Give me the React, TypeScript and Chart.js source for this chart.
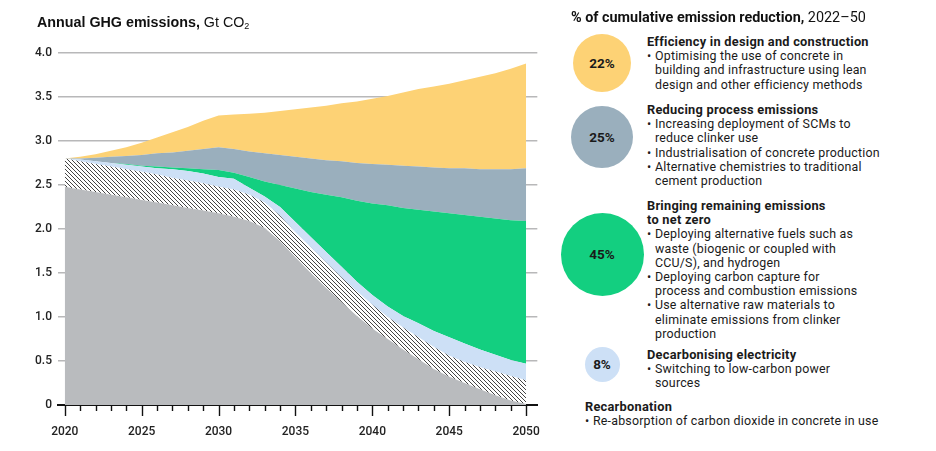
import React, { useEffect, useRef } from "react";
import { Chart, registerables } from "chart.js";

Chart.register(...registerables);

const years = [
  2020, 2021, 2022, 2023, 2024, 2025, 2026, 2027, 2028, 2029, 2030, 2031, 2032, 2033, 2034, 2035,
  2036, 2037, 2038, 2039, 2040, 2041, 2042, 2043, 2044, 2045, 2046, 2047, 2048, 2049, 2050,
];
// upper boundary of each stacked band (Gt CO2)
const remainingTop = [
  2.48, 2.45, 2.42, 2.39, 2.36, 2.33, 2.3, 2.27, 2.24, 2.21, 2.18, 2.14, 2.09, 2.01, 1.86, 1.68,
  1.5, 1.33, 1.17, 1.01, 0.87, 0.75, 0.63, 0.52, 0.41, 0.32, 0.25, 0.18, 0.11, 0.05, 0.01,
];
const recarbonationTop = [
  2.8, 2.77, 2.74, 2.71, 2.68, 2.65, 2.62, 2.58, 2.55, 2.52, 2.48, 2.45, 2.39, 2.3, 2.15, 1.96,
  1.79, 1.62, 1.45, 1.29, 1.14, 1.0, 0.88, 0.77, 0.66, 0.56, 0.49, 0.43, 0.38, 0.33, 0.28,
];
const electricityTop = [
  2.8, 2.79, 2.77, 2.75, 2.73, 2.71, 2.69, 2.68, 2.66, 2.63, 2.59, 2.57, 2.47, 2.37, 2.25, 2.08,
  1.91, 1.74, 1.57, 1.4, 1.25, 1.12, 1.01, 0.93, 0.84, 0.77, 0.7, 0.63, 0.57, 0.51, 0.47,
];
const netZeroTop = [
  2.8, 2.79, 2.77, 2.75, 2.74, 2.72, 2.71, 2.7, 2.69, 2.68, 2.67, 2.64, 2.59, 2.54, 2.5, 2.46,
  2.42, 2.39, 2.36, 2.32, 2.29, 2.27, 2.24, 2.22, 2.2, 2.18, 2.16, 2.14, 2.12, 2.1, 2.09,
];
const processTop = [
  2.8, 2.8, 2.81, 2.82, 2.83, 2.84, 2.86, 2.87, 2.89, 2.91, 2.93, 2.91, 2.88, 2.86, 2.84, 2.82,
  2.8, 2.78, 2.77, 2.75, 2.74, 2.73, 2.72, 2.71, 2.7, 2.69, 2.69, 2.68, 2.68, 2.68, 2.69,
];
const efficiencyTop = [
  2.8, 2.82, 2.85, 2.89, 2.93, 2.98, 3.04, 3.1, 3.16, 3.23, 3.29, 3.3, 3.31, 3.32, 3.34, 3.36,
  3.38, 3.4, 3.43, 3.45, 3.48, 3.51, 3.55, 3.59, 3.62, 3.65, 3.69, 3.73, 3.77, 3.82, 3.88,
];
const yTickValues = [0, 0.5, 1, 1.5, 2, 2.5, 3, 3.5, 4];
const xLabelStep = 5;

const seriesNames = [
  "Remaining emissions",
  "Recarbonation",
  "Decarbonising electricity",
  "Bringing remaining emissions to net zero",
  "Reducing process emissions",
  "Efficiency in design and construction",
];

const COLORS = {
  grey: "#b9bbbe",
  lightBlue: "#cde0f6",
  green: "#13cf80",
  blueGrey: "#9aafbd",
  yellow: "#fdd275",
};

const tickFont = "Roboto";

function makeHatch(): CanvasPattern | string {
  const s = 4;
  const c = document.createElement("canvas");
  c.width = s;
  c.height = s;
  const g = c.getContext("2d");
  if (!g) return "#888";
  g.fillStyle = "#ffffff";
  g.fillRect(0, 0, s, s);
  g.strokeStyle = "#444";
  g.lineWidth = 1;
  g.beginPath();
  g.moveTo(-1, -1);
  g.lineTo(s + 1, s + 1);
  g.moveTo(-1, s - 1);
  g.lineTo(1, s + 1);
  g.moveTo(s - 1, -1);
  g.lineTo(s + 1, 1);
  g.stroke();
  const p = g.createPattern(c, "repeat");
  return p || "#888";
}

const tickMarks = {
  id: "tickMarks",
  afterDraw(chart: any) {
    const x = chart.scales.x;
    const ctx = chart.ctx;
    const bottom = chart.chartArea.bottom;
    ctx.save();
    ctx.strokeStyle = "#111";
    ctx.lineWidth = 1.4;
    years.forEach((yr) => {
      const px = Math.round(x.getPixelForValue(yr)) + 0.5;
      const len = yr % xLabelStep === 0 ? 11 : 6;
      ctx.beginPath();
      ctx.moveTo(px, bottom);
      ctx.lineTo(px, bottom + len);
      ctx.stroke();
    });
    ctx.restore();
  },
};

function AreaChart() {
  const ref = useRef<HTMLCanvasElement>(null);
  useEffect(() => {
    if (!ref.current) return;
    const hatch = makeHatch();
    const tops = [remainingTop, recarbonationTop, electricityTop, netZeroTop, processTop, efficiencyTop];
    const fills: any[] = [COLORS.grey, hatch, COLORS.lightBlue, COLORS.green, COLORS.blueGrey, COLORS.yellow];
    const datasets = tops.map((arr, i) => ({
      label: seriesNames[i],
      data: years.map((yr, j) => ({ x: yr, y: arr[j] })),
      backgroundColor: fills[i],
      borderWidth: 0,
      borderColor: "rgba(0,0,0,0)",
      pointRadius: 0,
      tension: 0,
      fill: i === 0 ? "origin" : "-1",
    }));
    const chart = new Chart(ref.current, {
      type: "line",
      data: { datasets },
      options: {
        animation: false,
        responsive: false,
        maintainAspectRatio: false,
        layout: { padding: { left: 0, right: 11, top: 53, bottom: 0 } },
        plugins: { legend: { display: false }, tooltip: { enabled: false } },
        scales: {
          x: {
            type: "linear",
            min: 2019.56,
            max: 2050.73,
            z: 2,
            afterBuildTicks: (axis: any) => {
              axis.ticks = years.map((v) => ({ value: v }));
            },
            afterFit: (scale: any) => {
              scale.height = 46;
            },
            grid: { display: true, drawOnChartArea: false, drawTicks: false },
            border: { display: true, color: "#111", width: 2 },
            ticks: {
              autoSkip: false,
              maxRotation: 0,
              padding: 20,
              color: "#222",
              font: { family: tickFont, size: 12, weight: 500 },
              callback: (v: any) => (Number(v) % xLabelStep === 0 ? String(v) : ""),
            },
          },
          y: {
            type: "linear",
            min: 0,
            max: 4,
            z: 1,
            afterBuildTicks: (axis: any) => {
              axis.ticks = yTickValues.map((v) => ({ value: v }));
            },
            afterFit: (scale: any) => {
              scale.width = 58;
            },
            grid: {
              drawTicks: false,
              color: "rgba(125,125,128,0.55)",
              lineWidth: 1.4,
            },
            border: { display: false },
            ticks: {
              padding: 6,
              color: "#222",
              font: { family: tickFont, size: 12, weight: 500 },
              callback: (v: any) => (Number(v) === 0 ? "0" : Number(v).toFixed(1)),
            },
          },
        },
      },
      plugins: [tickMarks],
    } as any);
    return () => chart.destroy();
  }, []);
  return (
    <canvas
      ref={ref}
      width={560}
      height={451}
      style={{ position: "absolute", left: 0, top: 0, width: 560, height: 451 }}
    />
  );
}

type Item = {
  pct: string;
  color: string;
  cx: number;
  cy: number;
  r: number;
  heading: string[];
  headTop: number;
  bullets: string[][];
};

const items: Item[] = [
  {
    pct: "22%",
    color: COLORS.yellow,
    cx: 602,
    cy: 63,
    r: 29,
    heading: ["Efficiency in design and construction"],
    headTop: 35,
    bullets: [["Optimising the use of concrete in", "building and infrastructure using lean", "design and other efficiency methods"]],
  },
  {
    pct: "25%",
    color: COLORS.blueGrey,
    cx: 602,
    cy: 137,
    r: 31,
    heading: ["Reducing process emissions"],
    headTop: 103,
    bullets: [
      ["Increasing deployment of SCMs to", "reduce clinker use"],
      ["Industrialisation of concrete production"],
      ["Alternative chemistries to traditional", "cement production"],
    ],
  },
  {
    pct: "45%",
    color: COLORS.green,
    cx: 602,
    cy: 254,
    r: 41.5,
    heading: ["Bringing remaining emissions", "to net zero"],
    headTop: 199,
    bullets: [
      ["Deploying alternative fuels such as", "waste (biogenic or coupled with", "CCU/S), and hydrogen"],
      ["Deploying carbon capture for", "process and combustion emissions"],
      ["Use alternative raw materials to", "eliminate emissions from clinker", "production"],
    ],
  },
  {
    pct: "8%",
    color: COLORS.lightBlue,
    cx: 602,
    cy: 364,
    r: 17.5,
    heading: ["Decarbonising electricity"],
    headTop: 348,
    bullets: [["Switching to low-carbon power", "sources"]],
  },
];

const panelFont = "Roboto";
const LH = 14.2;

function TextBlock({ left, top, heading, bullets }: { left: number; top: number; heading: string[]; bullets: string[][] }) {
  return (
    <div
      style={{
        position: "absolute",
        left,
        top,
        fontFamily: panelFont,
        fontSize: 12.4,
        letterSpacing: "0.2px",
        lineHeight: `${LH}px`,
        color: "#1a1a1a",
        whiteSpace: "nowrap",
      }}
    >
      {heading.map((h, i) => (
        <div key={"h" + i} style={{ fontWeight: 700, fontSize: 12.8, letterSpacing: "0.25px" }}>
          {h}
        </div>
      ))}
      {bullets.map((b, i) => (
        <div key={"b" + i} style={{ position: "relative", paddingLeft: 8 }}>
          <span style={{ position: "absolute", left: 0, top: 0 }}>•</span>
          {b.map((line, j) => (
            <div key={j}>{line}</div>
          ))}
        </div>
      ))}
    </div>
  );
}

export default function App() {
  return (
    <div style={{ position: "absolute", left: 0, top: 0, width: 936, height: 451, overflow: "hidden", background: "#fff" }}>
      <AreaChart />
      <div
        style={{
          position: "absolute",
          left: 37,
          top: 14,
          fontFamily: "'Liberation Sans', Arial, sans-serif",
          fontSize: 14.3,
          color: "#111",
          whiteSpace: "nowrap",
        }}
      >
        <span style={{ fontWeight: 700 }}>Annual GHG emissions, </span>
        <span>
          Gt CO<sub style={{ fontSize: 9, verticalAlign: "-2px" }}>2</sub>
        </span>
      </div>
      <div
        style={{
          position: "absolute",
          left: 571,
          top: 9,
          fontFamily: panelFont,
          fontSize: 14.4,
          color: "#111",
          whiteSpace: "nowrap",
        }}
      >
        <span style={{ fontWeight: 700 }}>% of cumulative emission reduction, </span>
        <span>2022–50</span>
      </div>
      {items.map((it, i) => (
        <React.Fragment key={i}>
          <div
            style={{
              position: "absolute",
              left: it.cx - it.r,
              top: it.cy - it.r,
              width: it.r * 2,
              height: it.r * 2,
              borderRadius: "50%",
              background: it.color,
              display: "flex",
              alignItems: "center",
              justifyContent: "center",
              fontFamily: panelFont,
              fontWeight: 700,
              fontSize: 13.5,
              color: "#1a1a1a",
            }}
          >
            {it.pct}
          </div>
          <TextBlock left={647} top={it.headTop} heading={it.heading} bullets={it.bullets} />
        </React.Fragment>
      ))}
      <TextBlock
        left={585}
        top={400}
        heading={["Recarbonation"]}
        bullets={[["Re-absorption of carbon dioxide in concrete in use"]]}
      />
    </div>
  );
}
